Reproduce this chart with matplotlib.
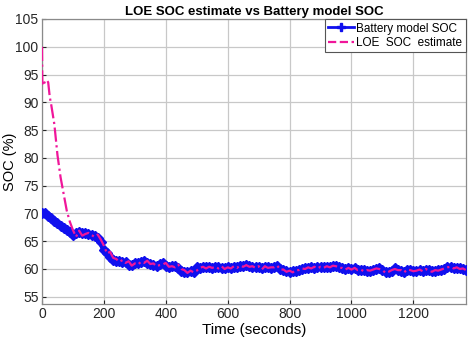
import numpy as np
import matplotlib
matplotlib.use("Agg")
import matplotlib.pyplot as plt

plt.rcParams['font.family'] = ['Liberation Sans', 'DejaVu Sans']

# Battery model SOC, sampled every 10 s
time_s = list(range(0, 1380, 10))
battery_soc = [70.0, 70.0, 69.6, 69.1, 68.6, 68.2, 67.8, 67.4, 67.0, 66.6,
               66.2, 66.4, 66.6, 66.5, 66.4, 66.3, 66.1, 66.0, 65.6, 64.8,
               63.4, 62.8, 62.2, 61.7, 61.5, 61.4, 61.3, 61.2, 60.8, 60.8,
               61.0, 61.1, 61.3, 61.4, 61.1, 60.9, 60.7, 60.6, 60.9, 61.0,
               60.6, 60.3, 60.5, 60.6, 60.2, 59.7, 59.4, 59.5, 59.6, 59.5,
               60.4, 60.2, 60.3, 60.3, 60.4, 60.2, 60.3, 60.4, 60.2, 60.1,
               60.3, 60.2, 60.4, 60.3, 60.5, 60.6, 60.7, 60.5, 60.4, 60.3,
               60.4, 60.1, 60.4, 60.3, 60.2, 60.4, 60.5, 60.0, 59.8, 59.6,
               59.5, 59.7, 59.6, 59.9, 60.0, 60.2, 60.1, 60.3, 60.2, 60.3,
               60.3, 60.4, 60.3, 60.4, 60.5, 60.6, 60.3, 60.1, 60.0, 60.1,
               60.0, 60.1, 59.9, 59.8, 59.9, 59.7, 59.6, 59.8, 60.0, 60.2,
               59.8, 59.5, 59.4, 59.7, 60.1, 59.9, 59.7, 59.5, 59.8, 59.9,
               59.7, 59.6, 59.8, 59.7, 59.9, 59.8, 59.6, 59.7, 59.8, 59.8,
               60.0, 60.4, 60.3, 60.2, 60.1, 60.2, 60.0, 59.9]

# LOE estimate: fast transient at the start
loe_head_t = [0, 1, 3, 6, 10, 15, 20, 25, 30, 40, 50, 60, 70, 80, 90, 100]
loe_head_soc = [100.0, 93.5, 93.0, 93.3, 93.8, 94.0, 93.6, 91.0, 89.5, 86.0,
                80.5, 76.5, 73.5, 70.5, 68.5, 67.0]
# then it tracks the battery model (110 s .. 1370 s, every 10 s)
loe_tail_t = list(range(110, 1380, 10))
loe_tail_soc = [65.8, 66.9, 66.0, 66.3, 66.5, 66.1, 65.8, 66.2, 65.3, 64.2,
                62.8, 63.1, 62.0, 61.8, 61.3, 61.6, 61.1, 61.4, 60.6, 61.0,
                60.8, 61.3, 61.1, 61.5, 60.9, 61.0, 60.5, 60.7, 60.8, 61.1,
                60.4, 60.5, 60.3, 60.8, 60.0, 59.8, 59.3, 59.7, 59.4, 59.7,
                60.2, 60.4, 60.1, 60.4, 60.2, 60.4, 60.1, 60.5, 60.0, 60.3,
                60.1, 60.5, 60.2, 60.6, 60.4, 60.7, 60.4, 60.5, 60.2, 60.5,
                59.9, 60.5, 60.2, 60.3, 60.3, 60.6, 59.9, 59.9, 59.5, 59.7,
                59.4, 59.8, 59.8, 60.1, 60.0, 60.3, 60.1, 60.4, 60.1, 60.4,
                60.2, 60.5, 60.3, 60.6, 60.5, 60.2, 60.2, 59.9, 60.2, 59.9,
                60.2, 59.8, 59.9, 59.6, 59.8, 59.7, 59.9, 60.1, 60.0, 59.8,
                59.3, 59.5, 59.8, 60.0, 59.8, 59.8, 59.4, 59.9, 59.8, 59.6,
                59.7, 59.9, 59.6, 60.0, 59.7, 59.5, 59.8, 59.7, 59.9, 60.1,
                60.3, 60.4, 60.1, 60.3, 60.0, 60.1, 59.8]

loe_t = loe_head_t + loe_tail_t
loe_soc = loe_head_soc + loe_tail_soc

fig = plt.figure(figsize=(4.74, 3.40), dpi=100, facecolor='white')
ax = fig.add_axes([42/474, 1 - 304/340, 424/474, 285/340])

blue = '#1010ee'
pink = '#f0169a'
ax.plot(time_s, battery_soc, color=blue, lw=4, marker='D', ms=5,
        label='Battery model SOC', zorder=3)
ax.plot(loe_t, loe_soc, color=pink, lw=1.6, ls='-.',
        label='LOE  SOC  estimate', zorder=4)

ax.set_xlim(0, 1370)
ax.set_ylim(53.7, 105)
ax.set_xticks(np.arange(0, 1201, 200))
ax.set_yticks(np.arange(55, 106, 5))
ax.grid(True, color='#c8c8c8', lw=0.9)
ax.set_axisbelow(True)
ax.tick_params(direction='in', length=3, pad=2.5, labelsize=10,
               colors='#262626', top=False, right=False)
for s in ax.spines.values():
    s.set_color('#8a8a8a')
    s.set_linewidth(0.9)

ax.set_title('LOE SOC estimate vs Battery model SOC', fontsize=9.5,
             fontweight='bold', pad=3)
ax.set_xlabel('Time (seconds)', fontsize=11, labelpad=1)
ax.set_ylabel('SOC (%)', fontsize=10.5)
ax.yaxis.set_label_coords(-0.059, 0.5)

h1 = plt.Line2D([], [], color=blue, lw=2, marker='P', ms=6)
h2 = plt.Line2D([], [], color=pink, lw=1.6, ls='--')
leg = ax.legend([h1, h2], ['Battery model SOC', 'LOE  SOC  estimate'],
                loc='upper right', fontsize=8.5, fancybox=False, framealpha=1,
                borderaxespad=0, handlelength=2.2, handletextpad=0.2,
                borderpad=0.3, labelspacing=0.2)
leg.get_frame().set_edgecolor('#555555')
leg.get_frame().set_linewidth(0.8)

fig.savefig('out.png', dpi=100)
